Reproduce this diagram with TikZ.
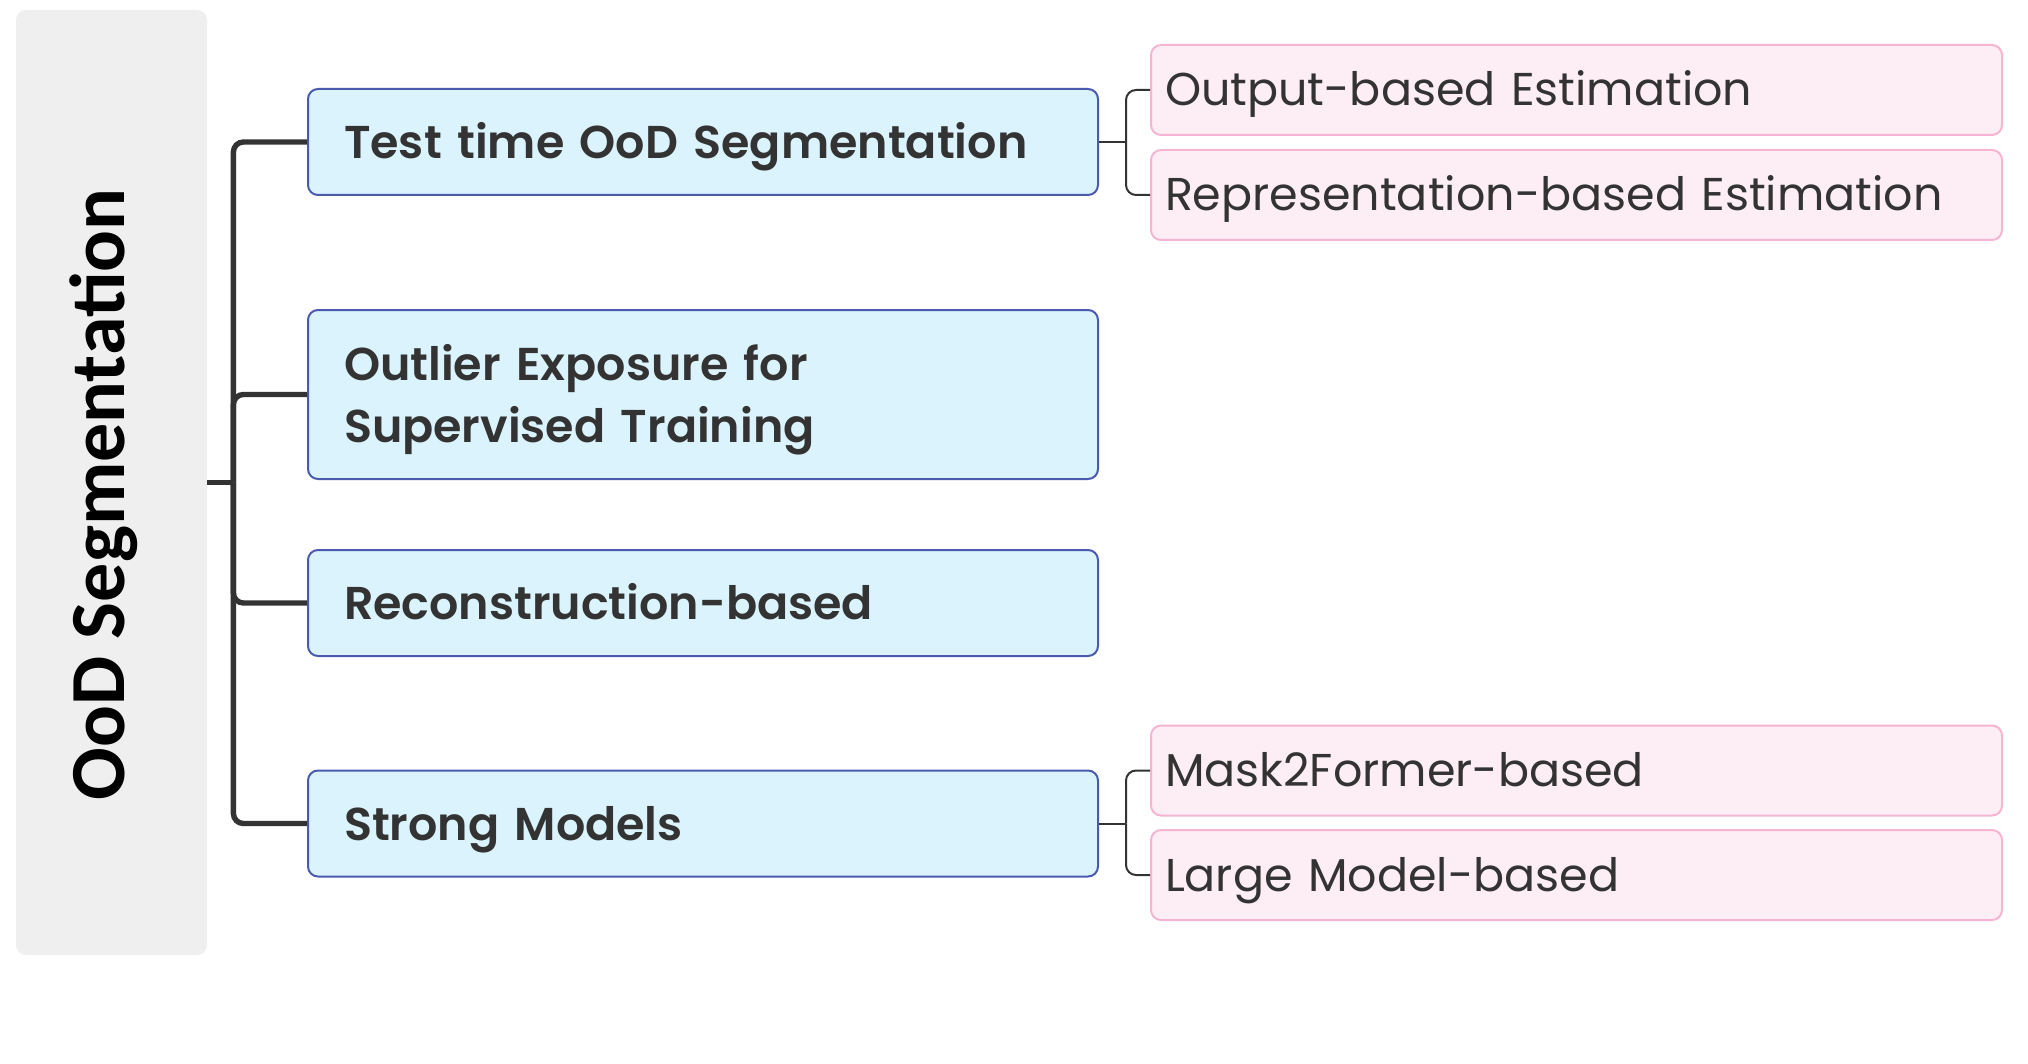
\documentclass[tikz,border=0pt]{standalone}
\usepackage{fontspec}
\setmainfont{Poppins}
\newfontfamily\semibold{Poppins SemiBold}
\newfontfamily\rootfont{Carlito}
\usetikzlibrary{positioning}
\definecolor{ink}{HTML}{333333}
\definecolor{rootgray}{HTML}{EFEFEF}
\definecolor{catfill}{HTML}{DBF3FD}
\definecolor{catline}{HTML}{4A5BAE}
\definecolor{subfill}{HTML}{FDEEF5}
\definecolor{subline}{HTML}{F5B5D2}
\begin{document}
\begin{tikzpicture}[x=0.5pt,y=-0.5pt,
		root/.style={fill=rootgray,rounded corners=5pt,minimum width=472.5pt,minimum
					height=95.5pt,inner sep=0pt,text=black,text height=26pt,text depth=13pt,
					font=\rootfont\bfseries\fontsize{39}{39}\selectfont},
		cat/.style={draw=catline,line width=1pt,fill=catfill,rounded corners=5pt,text width=359pt,
					align=left,inner xsep=18pt,inner ysep=0pt,minimum height=53pt,text=ink,
					font=\semibold\fontsize{23}{31}\selectfont,text height=16.5pt,text depth=0pt},
		sub/.style={draw=subline,line width=1pt,fill=subfill,rounded corners=5pt,text width=411.5pt,
					align=left,inner xsep=7pt,inner ysep=0pt,minimum height=45pt,text=ink,
					font=\fontsize{23}{28}\selectfont,text height=16pt,text depth=0pt},
		trunk/.style={draw=ink,line width=2.7pt,rounded corners=5pt},
		twig/.style={draw=ink,line width=1pt,rounded corners=5pt}]
		\useasboundingbox (0,0) rectangle (2028,1064);
		% root
		\node[root,rotate=90] (root) at (111.5,482.5) {OoD Segmentation\hspace*{12pt}};
		% categories
		\node[cat] (test) at (703,142) {Test time OoD Segmentation};
		\node[cat,minimum height=84.5pt,text depth=31pt] (outlier) at (703,394.5) {Outlier Exposure for\\Supervised Training};
		\node[cat] (recon) at (703,603) {Reconstruction-based};
		\node[cat] (strong) at (703,823.5) {Strong Models};
		% sub-categories
		\node[sub] (output) at (1576.5,90) {Output-based Estimation};
		\node[sub] (repr) at (1576.5,195) {Representation-based Estimation};
		\node[sub] (mask) at (1576.5,770.5) {Mask2Former-based};
		\node[sub] (large) at (1576.5,875) {Large Model-based};
		% connectors
		\coordinate[right=13pt of root.south] (jn);
		\draw[trunk] (root.south) -- (jn);
		\foreach \c in {test,outlier,recon,strong}
		\draw[trunk] (jn) |- (\c.west);
		\coordinate[right=13.5pt of test.east] (testjn);
		\draw[twig] (test.east) -- (testjn);
		\foreach \s in {output,repr}
		\draw[twig] (testjn) |- (\s.west);
		\coordinate[right=13.5pt of strong.east] (strongjn);
		\draw[twig] (strong.east) -- (strongjn);
		\foreach \s in {mask,large}
		\draw[twig] (strongjn) |- (\s.west);
	\end{tikzpicture}
\end{document}
